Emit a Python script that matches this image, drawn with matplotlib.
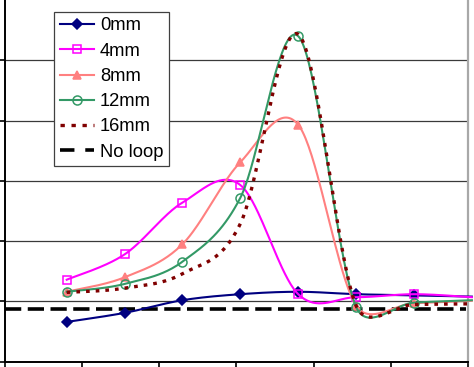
import numpy as np
import matplotlib.pyplot as plt
from matplotlib.lines import Line2D

# positions of the samples along the x axis (axis ticks every 4 units)
x_pos = [3.2, 6.2, 9.2, 12.2, 15.2, 18.2, 21.2, 24.2]

series_names = ["0mm", "4mm", "8mm", "12mm", "16mm"]
values_0mm = [-0.34, -0.19, 0.02, 0.12, 0.16, 0.12, 0.10, 0.08]
values_4mm = [0.36, 0.78, 1.64, 1.93, 0.12, 0.07, 0.12, 0.07]
values_8mm = [0.16, 0.40, 0.95, 2.31, 2.93, -0.07, -0.03, 0.01]
values_12mm = [0.16, 0.29, 0.66, 1.72, 4.40, -0.09, -0.02, 0.02]
values_16mm = [0.15, 0.22, 0.46, 1.29, 4.43, -0.07, -0.05, -0.04]
no_loop_level = -0.13

x_ticks = [0, 4, 8, 12, 16, 20, 24]
y_ticks = [-1, 0, 1, 2, 3, 4]

colors = ["#000080", "#ff00ff", "#ff8080", "#339966", "#800000"]

# screen scale (pixels per data unit) used for the smoothing weights
PX_X = 463 / 24
PX_Y = 361.7 / 6


def tangent_factor(d_near, d_far):
    # shorten the tangent only when the neighbouring segment is much longer
    if d_far > 3 * d_near:
        return np.sqrt(2 * d_near / (d_far + d_near)) / 6
    return 1 / 6


def smooth(xs, ys, steps=40):
    # Excel-like smoothed line: cubic bezier through the points
    p = np.column_stack([xs, ys]).astype(float)
    scale = np.array([PX_X, PX_Y])

    def dist(a, b):
        return np.hypot(*((b - a) * scale))

    pts = [p[0]]
    for i in range(len(p) - 1):
        p0 = p[i - 1] if i > 0 else p[i]
        p1 = p[i]
        p2 = p[i + 1]
        p3 = p[i + 2] if i + 2 < len(p) else p[i + 1]
        d01, d12, d23 = dist(p0, p1), dist(p1, p2), dist(p2, p3)
        c1 = p1 + (p2 - p0) * tangent_factor(d12, d01)
        c2 = p2 - (p3 - p1) * tangent_factor(d12, d23)
        t = np.linspace(0, 1, steps)[1:, None]
        seg = ((1 - t) ** 3) * p1 + 3 * ((1 - t) ** 2) * t * c1 + 3 * (1 - t) * t ** 2 * c2 + t ** 3 * p2
        pts.extend(seg)
    pts = np.array(pts)
    return pts[:, 0], pts[:, 1]


fig = plt.figure(figsize=(4.74, 3.67), dpi=100)
ax = fig.add_axes([5 / 474, 5.3 / 367, 463 / 474, 361.7 / 367])

ax.set_xlim(0, 24)
ax.set_ylim(-1, 5)
ax.set_xticks(x_ticks)
ax.set_yticks(y_ticks)
ax.set_xticklabels([])
ax.set_yticklabels([])
ax.tick_params(axis="both", direction="out", length=5, width=1.2, color="black")

for yv in y_ticks[1:]:
    ax.axhline(yv, color="#3a3a3a", lw=0.9, zorder=1)

ax.spines["top"].set_visible(False)
ax.spines["left"].set_linewidth(1.4)
ax.spines["bottom"].set_linewidth(1.4)
ax.spines["right"].set_color("#a8a8a8")
ax.spines["right"].set_linewidth(1.6)

ax.axhline(no_loop_level, xmax=0.995, color="black", lw=2.6,
           linestyle=(0, (4.5, 1.8)), dash_capstyle="butt", zorder=2)

all_values = [values_0mm, values_4mm, values_8mm, values_12mm, values_16mm]
markers = ["D", "s", "^", "o", None]
msizes = [5, 6, 6, 6.5, 0]
mfaces = [colors[0], "none", colors[2], "none", "none"]
handles = []
for i, (name, vals) in enumerate(zip(series_names, all_values)):
    sx, sy = smooth(x_pos, vals)
    if name == "16mm":
        ax.plot(sx, sy, color=colors[i], lw=2.4, linestyle=(0, (1.1, 1.8)),
                dash_capstyle="butt", clip_on=False, zorder=3 + i)
        handles.append(Line2D([], [], color=colors[i], lw=2.4,
                              linestyle=(0, (1.3, 2.0)), dash_capstyle="butt"))
    else:
        ax.plot(sx, sy, color=colors[i], lw=1.5, clip_on=False, zorder=3 + i)
        ax.plot(x_pos[:-1], vals[:-1], ls="none", marker=markers[i], ms=msizes[i],
                mfc=mfaces[i], mec=colors[i], mew=1.1, zorder=3 + i)
        handles.append(Line2D([], [], color=colors[i], lw=1.5, marker=markers[i],
                              ms=msizes[i], mfc=mfaces[i], mec=colors[i], mew=1.1))

handles.append(Line2D([], [], color="black", lw=2.6, linestyle=(0, (4.0, 3.0)),
                      dash_capstyle="butt"))
labels = series_names + ["No loop"]

leg = ax.legend(handles, labels, loc="upper left", bbox_to_anchor=(0.106, 0.967),
                borderaxespad=0, fancybox=False, framealpha=1, edgecolor="#404040",
                prop={"family": "Liberation Sans", "size": 13.2},
                handlelength=1.9, handletextpad=0.3, labelspacing=0.45,
                borderpad=0.3)
leg.get_frame().set_linewidth(0.9)
leg.set_zorder(20)

fig.savefig("out.png", dpi=100)
